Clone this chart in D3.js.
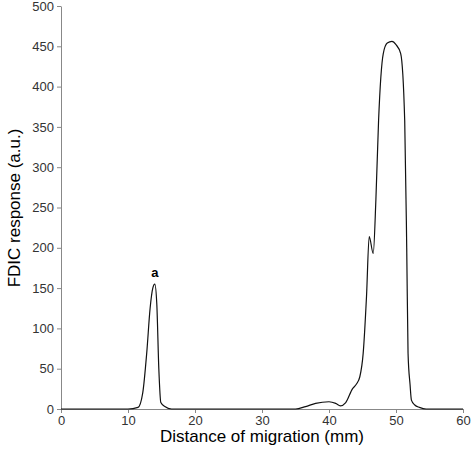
<!DOCTYPE html>
<html><head><meta charset="utf-8">
<script src="https://cdn.jsdelivr.net/npm/d3@7"></script>
<style>body{margin:0;background:#fff}</style></head>
<body><svg id="c" width="474" height="449"></svg>
<script>
const xTicks = [0,10,20,30,40,50,60];
const yTicks = [0,50,100,150,200,250,300,350,400,450,500];
const distance = [0,10,11.5,12.2,12.8,13.3,13.7,14.0,14.3,14.6,14.9,15.5,16.5,20,30,35,36.5,38,40,41,41.7,42.5,43.5,44.1,44.6,45.1,45.6,46.0,46.6,47.0,47.4,48.1,48.7,49.4,50.0,50.7,51.3,51.6,51.8,52.1,52.3,52.8,53.5,54.5,60];
const response = [0,0,2,20,70,125,150,155,130,50,8,3,0,0,0,0,3,7,9,7,4,8,25,11+20,40,69,140,214,193,260,358,441,454,456,452,441,358,200,69,30,11,5,2,0,0];
const svg = d3.select("#c");
const x = d3.scaleLinear().domain([0,60]).range([61,463]);
const y = d3.scaleLinear().domain([0,500]).range([409,6]);
svg.append("g").attr("transform","translate(0,409)")
  .call(d3.axisBottom(x).tickValues(xTicks).tickSize(4).tickSizeOuter(0));
svg.append("g").attr("transform","translate(61,0)")
  .call(d3.axisLeft(y).tickValues(yTicks).tickSize(4).tickSizeOuter(0));
svg.selectAll(".domain,.tick line").attr("stroke","#888");
svg.selectAll(".tick text").attr("font-family","Arial, Liberation Sans").attr("font-size",13).attr("fill","#333");
svg.append("path").datum(d3.zip(distance,response))
  .attr("fill","none").attr("stroke","#111").attr("stroke-width",1.2)
  .attr("d", d3.line().x(d=>x(d[0])).y(d=>y(d[1])).curve(d3.curveMonotoneX));
svg.append("text").attr("x",x(14)).attr("y",y(155)-7).attr("text-anchor","middle")
  .attr("font-family","Arial, Liberation Sans").attr("font-weight","bold").attr("font-size",13).text("a");
svg.append("text").attr("x",262).attr("y",442).attr("text-anchor","middle")
  .attr("font-family","Arial, Liberation Sans").attr("font-size",17).text("Distance of migration (mm)");
svg.append("text").attr("transform","translate(20,208) rotate(-90)").attr("text-anchor","middle")
  .attr("font-family","Arial, Liberation Sans").attr("font-size",17).text("FDIC response (a.u.)");
</script></body></html>
